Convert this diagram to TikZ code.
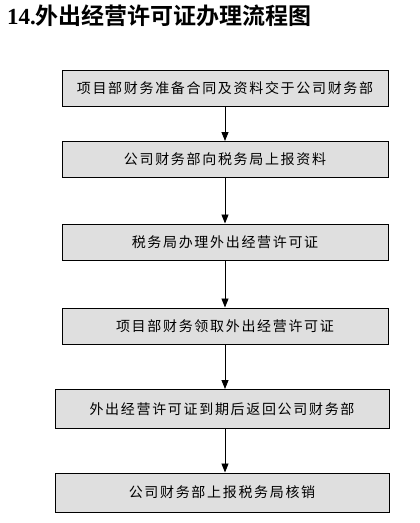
\documentclass[tikz,border=0pt]{standalone}
\usepackage{fontspec}
\setmainfont{Liberation Serif}
\newfontfamily\cjk{Noto Sans CJK SC}[LetterSpace=12]
\newfontfamily\cjktitle{Noto Sans CJK SC Bold}
\usetikzlibrary{arrows.meta, positioning}
\tikzstyle{stdText} = [align=center, inner sep=0pt, font=\cjk\fontsize{14pt}{16pt}\selectfont]
\tikzstyle{stepBox} = [stdText, draw, line width=1pt, fill=gray!25, rectangle, sharp corners, minimum width=326pt, minimum height=36pt]
\tikzstyle{wideBox} = [stepBox, minimum width=334pt, minimum height=39pt]
\tikzstyle{ar} = [-{Triangle[width=7pt, length=9pt]}, line width=0.8pt]
\tikzstyle{title} = [anchor=west, inner sep=0pt]

\begin{document}
\begin{tikzpicture}[x=1pt, y=-1pt]
    \useasboundingbox (0,0) rectangle (420,523);

    % the heading
    \node (heading) [title] at (7,16) {\fontsize{23pt}{25pt}\selectfont\textbf{14.}\cjktitle 外出经营许可证办理流程图};

    % the steps
    \node (s1) [stepBox] at (225,88.5) {项目部财务准备合同及资料交于公司财务部};
    \node (s2) [stepBox] at (225,159.5) {公司财务部向税务局上报资料};
    \node (s3) [stepBox] at (225,242) {税务局办理外出经营许可证};
    \node (s4) [stepBox] at (225,326) {项目部财务领取外出经营许可证};
    \node (s5) [wideBox] at (222,409) {外出经营许可证到期后返回公司财务部};
    \node (s6) [wideBox] at (222,492.5) {公司财务部上报税务局核销};

    \foreach \x in {1,...,3}{
        \pgfmathtruncatemacro\y{\x + 1}
        \draw [ar] (s\x) -- (s\y);
    }
    \draw [ar] (s4.south) -- (s4.south |- s5.north);
    \draw [ar] (s5.south -| s4) -- (s6.north -| s4);
\end{tikzpicture}
\end{document}
